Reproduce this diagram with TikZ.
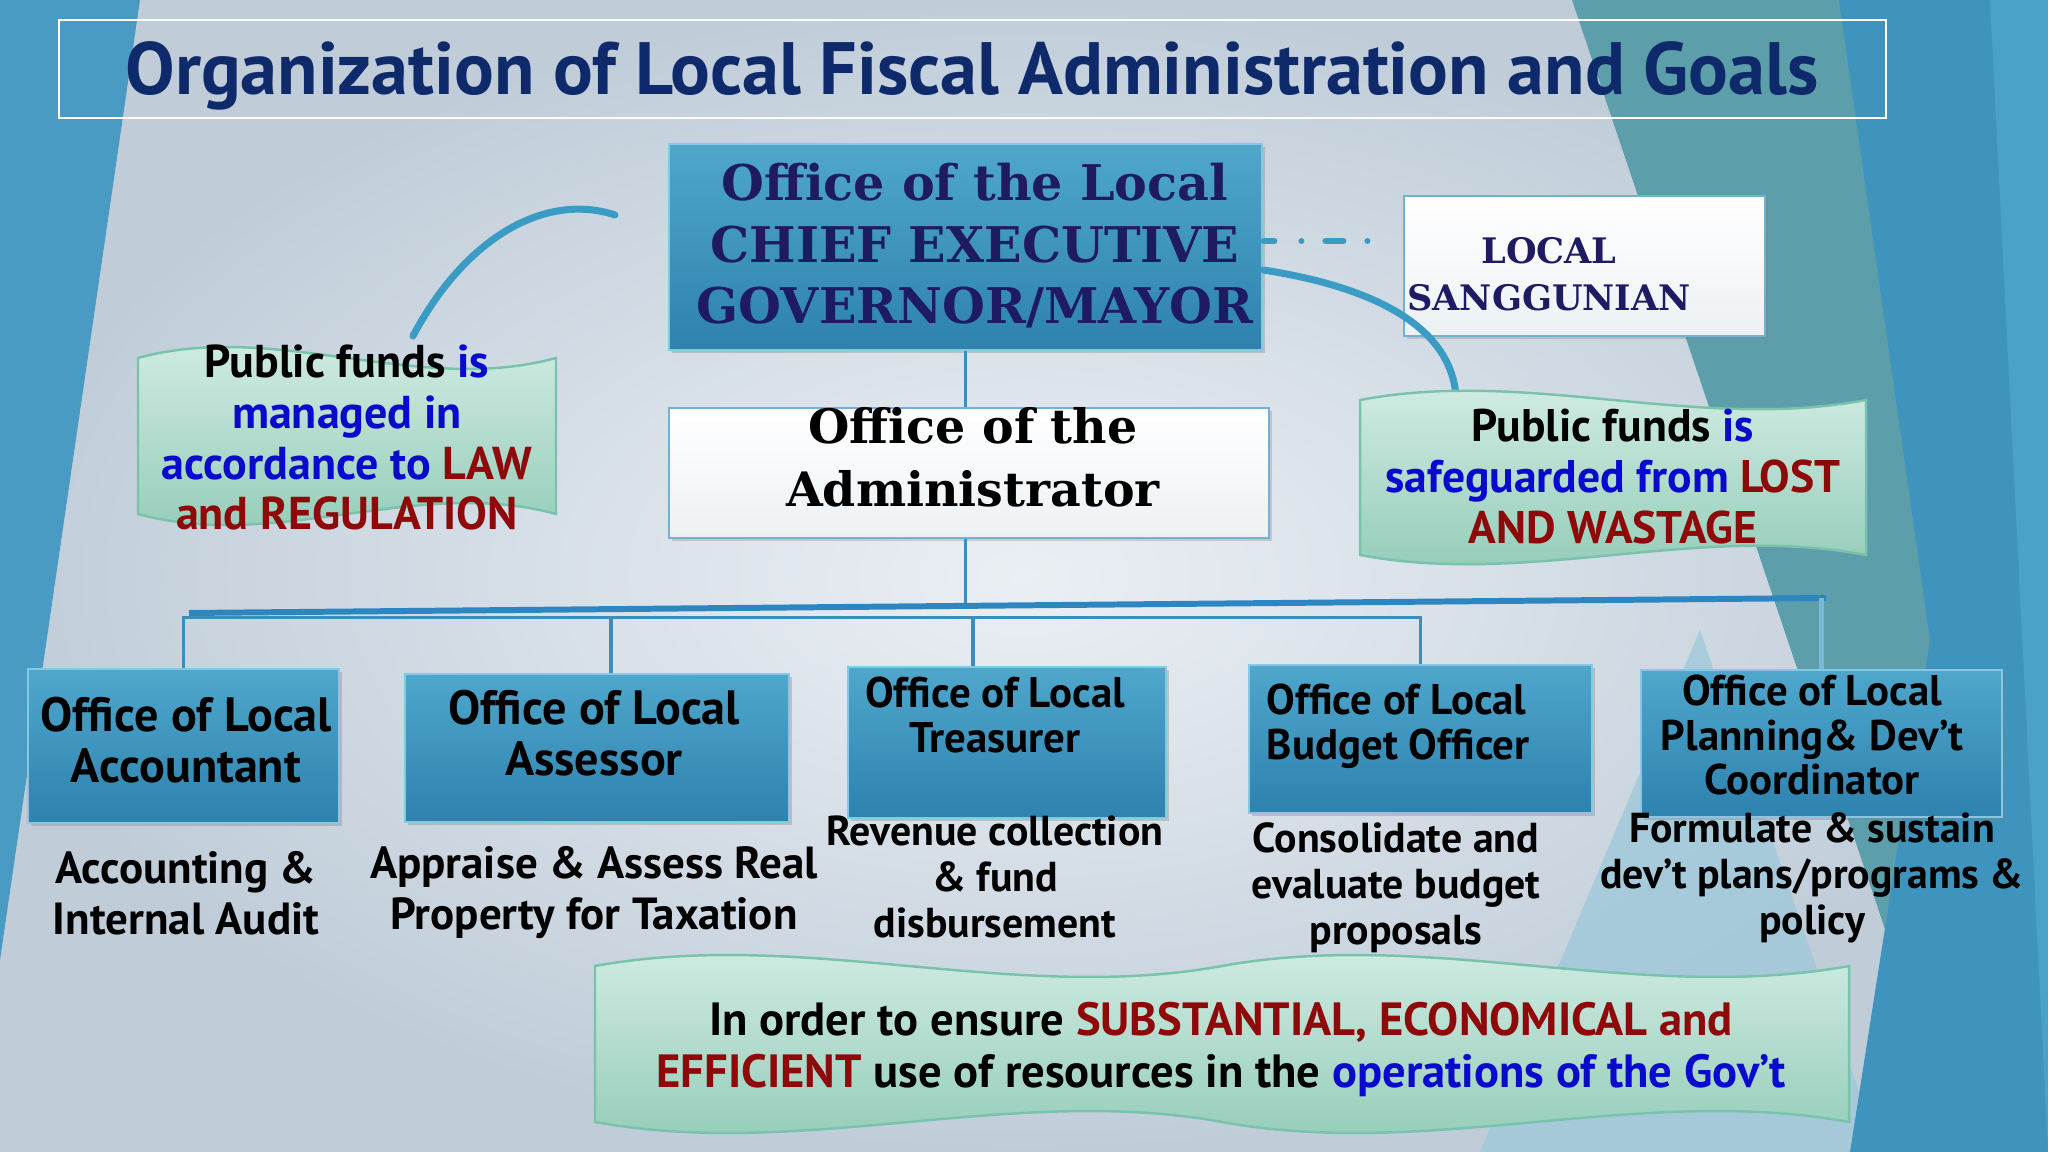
\documentclass[tikz,border=0pt]{standalone}
\usepackage{fontspec}
\setmainfont{PT Sans}
\newfontfamily\slabfont{DejaVu Serif}
\usetikzlibrary{shadows}

\definecolor{bgin}{HTML}{EBEFF4}
\definecolor{bgout}{HTML}{C0CDD9}
\definecolor{stripblue}{HTML}{4A9BC4}
\definecolor{facetteal}{HTML}{5C9FAA}
\definecolor{facetblue}{HTML}{3E94BD}
\definecolor{facetedge}{HTML}{4AA2C9}
\definecolor{facetlight}{HTML}{9DC8DA}
\definecolor{titlenavy}{HTML}{0E2A6A}
\definecolor{cenavy}{HTML}{1F1B62}
\definecolor{boxtop}{HTML}{4FA7CC}
\definecolor{boxbot}{HTML}{2D82AE}
\definecolor{boxrim}{HTML}{86C8E3}
\definecolor{whitetop}{HTML}{FFFFFF}
\definecolor{whitebot}{HTML}{EDF1F4}
\definecolor{whiterim}{HTML}{6FB2D4}
\definecolor{minttop}{HTML}{D6EEE6}
\definecolor{mintbot}{HTML}{8FCAB5}
\definecolor{mintrim}{HTML}{79C2AC}
\definecolor{lineblue}{HTML}{3A8DBD}
\definecolor{busblue}{HTML}{2E86C1}
\definecolor{curveblue}{HTML}{3A9BC5}
\definecolor{fadeblue}{HTML}{7AB8D8}
\definecolor{fundblue}{HTML}{0A0ACC}
\definecolor{fundred}{HTML}{8E0A0A}

\begin{document}
\begin{tikzpicture}[x=0.1mm,y=-0.1mm,
    officebox/.style={rectangle,top color=boxtop,bottom color=boxbot,draw=boxrim,
      line width=0.8pt,drop shadow={shadow xshift=0.25mm,shadow yshift=-0.35mm,opacity=0.35}},
    whitebox/.style={rectangle,top color=whitetop,bottom color=whitebot,draw=whiterim,
      line width=0.8pt,drop shadow={shadow xshift=0.25mm,shadow yshift=-0.35mm,opacity=0.3}},
    scroll/.style={top color=minttop,bottom color=mintbot,draw=mintrim,line width=0.7pt},
    bigtext/.style={inner sep=0pt,align=center,font=\bfseries\fontsize{13.7}{14.5}\selectfont},
    smalltext/.style={inner sep=0pt,align=center,font=\bfseries\fontsize{12.2}{12.8}\selectfont},
    bigdesc/.style={inner sep=0pt,align=center,font=\bfseries\fontsize{12.8}{14.5}\selectfont},
    smalldesc/.style={inner sep=0pt,align=center,font=\bfseries\fontsize{11.9}{13.1}\selectfont},
    scrolltext/.style={inner sep=0pt,align=center,font=\bfseries\fontsize{13.1}{14.5}\selectfont},
    slabtext/.style={inner sep=0pt,align=center,text=cenavy},
    orgline/.style={draw=lineblue,line width=1pt},
    busline/.style={draw=busblue,line width=1.7pt},
    curveline/.style={draw=curveblue,line width=2pt,line cap=round}]

  \useasboundingbox (0,0) rectangle (2048,1152);

  % backdrop
  \shade[inner color=bgin,outer color=bgout] (0,0) rectangle (2048,1152);
  \fill[stripblue] (0,0) -- (140,0) -- (0,960) -- cycle;
  \fill[facetteal] (1572,0) -- (2048,0) -- (2048,1152) -- (1960,1152) -- cycle;
  \fill[facetlight,opacity=0.75] (1700,630) -- (1880,1152) -- (1480,1152) -- cycle;
  \fill[facetblue] (1839,0) -- (2048,0) -- (2048,1152) -- (1850,1152) -- (1930,640) -- cycle;
  \fill[facetedge] (1990,0) -- (2048,0) -- (2048,1152) -- cycle;

  % title
  \node[draw=white,line width=0.45pt,minimum width=182.7mm,minimum height=9.8mm,inner sep=0pt]
       (frame) at (972.5,69) {};
  \node[anchor=base,inner sep=0pt,text=titlenavy,font=\bfseries\fontsize{21.1}{24}\selectfont]
       (title) at (972,95) {Organization of Local Fiscal Administration and Goals};

  % top offices
  \node[officebox,minimum width=59.3mm,minimum height=20.6mm] (ce) at (965.5,247) {};
  \node[whitebox,minimum width=60mm,minimum height=13mm] (adm) at (969,473) {};
  \node[whitebox,minimum width=36.1mm,minimum height=14mm] (sang) at (1584.5,266) {};

  \coordinate (hub) at (965.5,606);
  \coordinate (busL) at (189,613);
  \coordinate (busR) at (1826,598);
  \coordinate (lawtip) at (413,336);
  \coordinate (lawend) at (615,215);
  \coordinate (losttip) at (1456,396);

  \draw[curveline] (lawtip) .. controls (465,238) and (545,192) .. (lawend);
  \draw[curveline] ([yshift=-2.3mm]ce.east) .. controls (1360,285) and (1450,320) .. (losttip);
  \draw[draw=curveblue,line width=1.7pt,line cap=round,shorten >=3.2mm,
        dash pattern=on 1.1mm off 2.7mm on 0mm off 2.4mm on 1.8mm off 2.4mm on 0mm off 5mm]
       ([yshift=0.6mm]ce.east) -- ([yshift=0.6mm]ce.east -| sang.west);

  % chart lines
  \draw[orgline] (ce.south) -- (ce.south |- adm.north);
  \draw[orgline] (ce.south |- adm.south) -- (hub);
  \draw[busline] (busL) -- (busR);

  % lower offices
  \node[officebox,minimum width=31.1mm,minimum height=15.4mm] (acc) at (183.5,746) {};
  \node[officebox,minimum width=38.4mm,minimum height=14.8mm] (ass) at (597,748) {};
  \node[officebox,minimum width=31.8mm,minimum height=15.1mm] (tre) at (1007,742.5) {};
  \node[officebox,minimum width=34.3mm,minimum height=14.8mm] (bud) at (1420.5,739) {};
  \node[officebox,minimum width=36.1mm,minimum height=14.7mm] (pla) at (1821.5,743.5) {};

  \draw[orgline] (acc.north) -- ++(0,-50) -| (bud.north);
  \draw[orgline] ([xshift=1.4mm]ass.north) -- ++(0,-55);
  \draw[orgline] ([xshift=-3.4mm]tre.north) -- ++(0,-49);
  \draw[draw=fadeblue,line width=1.3pt] (pla.north) -- (pla.north |- busR);

  % scrolls
  \shadedraw[scroll] (138,358) .. controls (277,320) and (417,396) .. (556,358)
     -- (556,514) .. controls (417,476) and (277,552) .. (138,514) -- cycle;
  \shadedraw[scroll] (1360,400) .. controls (1529,368) and (1697,432) .. (1866,400)
     -- (1866,555) .. controls (1697,523) and (1529,587) .. (1360,555) -- cycle;
  \shadedraw[scroll] (595,966) .. controls (804,928) and (1013,1004) .. (1222,966)
     .. controls (1431,928) and (1640,1004) .. (1849,966)
     -- (1849,1122) .. controls (1640,1084) and (1431,1160) .. (1222,1122)
     .. controls (1013,1084) and (804,1160) .. (595,1122) -- cycle;

  % texts
  \node[slabtext,font=\slabfont\bfseries\fontsize{14}{17.5}\selectfont] (ce-t) at (975,246)
       {Office of the Local\\CHIEF EXECUTIVE\\GOVERNOR/MAYOR};
  \node[slabtext,text=black,font=\slabfont\bfseries\fontsize{13.5}{18}\selectfont] (adm-t) at (973,457.5)
       {Office of the\\Administrator};
  \node[slabtext,font=\slabfont\bfseries\fontsize{10}{13.4}\selectfont] (sang-t) at (1549,274.5)
       {LOCAL\\SANGGUNIAN};

  \node[bigtext] (acc-t) at (186,740) {Office of Local\\Accountant};
  \node[bigtext] (ass-t) at (594,733) {Office of Local\\Assessor};
  \node[smalltext] (tre-t) at (995,714.7) {Office of Local\\Treasurer};
  \node[smalltext,anchor=west,align=left] (bud-t) at (1266,726) {Office of Local\\Budget Officer};
  \node[smalltext] (pla-t) at (1812,735) {Office of Local\\Planning\& Dev’t\\Coordinator};

  \node[bigdesc] (acc-d) at (186,893.5) {Accounting \&\\Internal Audit};
  \node[bigdesc] (ass-d) at (594,892.5) {Appraise \& Assess Real\\Property for Taxation};
  \node[smalldesc] (tre-d) at (995,876.5) {Revenue collection\\\& fund\\disbursement};
  \node[smalldesc] (bud-d) at (1396,888) {Consolidate and\\evaluate budget\\proposals};
  \node[smalldesc] (pla-d) at (1812,878) {Formulate \& sustain\\dev’t plans/programs \&\\policy};

  \node[scrolltext] (law-t) at (347,437.5)
       {Public funds \textcolor{fundblue}{is}\\\textcolor{fundblue}{managed in}\\
        \textcolor{fundblue}{accordance to} \textcolor{fundred}{LAW}\\\textcolor{fundred}{and REGULATION}};
  \node[scrolltext,font=\bfseries\fontsize{13}{14.6}\selectfont] (lost-t) at (1613,476.5)
       {Public funds \textcolor{fundblue}{is}\\\textcolor{fundblue}{safeguarded from} \textcolor{fundred}{LOST}\\
        \textcolor{fundred}{AND WASTAGE}};
  \node[scrolltext,font=\bfseries\fontsize{13.25}{14.8}\selectfont] (goal-t) at (1221,1049.7)
       {In order to ensure \textcolor{fundred}{SUBSTANTIAL, ECONOMICAL and}\\
        \textcolor{fundred}{EFFICIENT} use of resources in the \textcolor{fundblue}{operations of the Gov’t}};
\end{tikzpicture}
\end{document}
